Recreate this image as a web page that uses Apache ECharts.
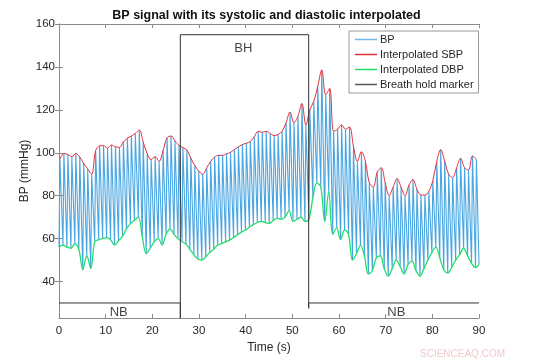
<!DOCTYPE html>
<html><head><meta charset="utf-8">
<script src="https://cdn.jsdelivr.net/npm/echarts@6/dist/echarts.min.js"></script>
<style>html,body{margin:0;padding:0;background:#fff}#c{width:533px;height:362px}</style>
</head><body><div id="c"></div>
<script>
// Diastolic troughs (beat onsets), seconds and mmHg
var troughT = [0.0,0.85,1.7,2.55,3.4,4.25,5.1,5.95,6.8,7.65,8.5,9.35,10.2,11.05,11.9,12.75,13.6,14.45,15.3,16.15,17.0,17.85,18.7,19.55,20.4,21.25,22.1,22.95,23.8,24.65,25.5,26.35,27.2,28.05,28.9,29.75,30.6,31.45,32.3,33.15,34.0,34.85,35.7,36.55,37.4,38.25,39.1,39.95,40.8,41.65,42.5,43.35,44.2,45.05,45.9,46.75,47.6,48.45,49.3,50.15,51.0,51.85,52.7,53.55,54.4,55.25,56.1,56.95,57.8,58.65,59.5,60.35,61.2,62.05,62.9,63.75,64.6,65.45,66.3,67.15,68.0,68.85,69.7,70.55,71.4,72.25,73.1,73.95,74.8,75.65,76.5,77.35,78.2,79.05,79.9,80.75,81.6,82.45,83.3,84.15,85.0,85.85,86.7,87.55,88.4,89.25,90.0];
var dbpValues = [56,57,56,55.5,57.5,55,45.5,52,46,58.5,
  59.5,60,60.5,59.5,57,59,61,64.5,67,68.5,
  70,61,53,55.5,58.5,60,57,62,64.5,62,
  60,58.5,57.5,55,52.5,50.5,50,51.5,53.5,55,
  57,57.8,58.5,59.3,60.5,61.8,63,64,65.3,66.5,
  67.5,68,67.5,67,68.5,69.4,69,70,73,68,
  69,70,68,69,79,86,84,68,82,62,
  65,59.5,64,62,50,53,57,52,43.5,45,
  51,52,46,42.5,46,50,47,43.5,48,49.5,
  45,42.5,46,50,53.5,56,51,45.5,44,46.5,
  50,52.5,55.5,52,48.5,46.5,48];
// Systolic peaks
var peakT = [0.2,1.05,1.9,2.75,3.6,4.45,5.3,6.15,7.0,7.85,8.7,9.55,10.4,11.25,12.1,12.95,13.8,14.65,15.5,16.35,17.2,18.05,18.9,19.75,20.6,21.45,22.3,23.15,24.0,24.85,25.7,26.55,27.4,28.25,29.1,29.95,30.8,31.65,32.5,33.35,34.2,35.05,35.9,36.75,37.6,38.45,39.3,40.15,41.0,41.85,42.7,43.55,44.4,45.25,46.1,46.95,47.8,48.65,49.5,50.35,51.2,52.05,52.9,53.75,54.6,55.45,56.3,57.15,58.0,58.85,59.7,60.55,61.4,62.25,63.1,63.95,64.8,65.65,66.5,67.35,68.2,69.05,69.9,70.75,71.6,72.45,73.3,74.15,75.0,75.85,76.7,77.55,78.4,79.25,80.1,80.95,81.8,82.65,83.5,84.35,85.2,86.05,86.9,87.75,88.6,89.45];
var sbpValues = [97,99.7,99.2,98.2,99.7,98,95,92.5,90,101,
  103.2,103.3,102.2,103.6,102.8,102.5,105,106.8,107.8,109,
  110.6,105,99.5,96.8,98.2,96,101,107,107.8,105.5,
  103.5,102.4,101.3,97.5,94,91.5,90,93,96,98,
  98.8,98.8,99.5,100.2,101.5,102.8,103.8,104.5,105.2,107.5,
  110,109.5,110,109,108,108.5,110,114,119,114,
  117,123,113,120,124,131,138.6,127,130,110,
  111,113,111,112,103,96,100.5,96,86,84,
  91,93,86,80,84,88,84,80,85,87.5,
  83,80.3,80.3,82,87,96,101.5,96,90,88.5,
  93,97.4,93,92,98.5,97];
// Breath-hold marker
var markerT = [0,26,26,26,53.5,53.5,53.5,90];
var markerV = [30,30,23,155,155,27.5,30,30];
// Annotations
var annotText = ['NB','BH','NB'];
var annotT = [12.8,39.5,72.3];
var annotV = [25.8,148.8,25.8];
var xTicks = [0,10,20,30,40,50,60,70,80,90];
var yTicks = [40,60,80,100,120,140,160];

var bp = [];
for (var i = 0; i < troughT.length; i++) {
  bp.push([troughT[i], dbpValues[i]]);
  if (i < peakT.length) bp.push([peakT[i], sbpValues[i]]);
}
var sbp = peakT.map(function(t,i){return [t, sbpValues[i]];});
var dbp = troughT.map(function(t,i){return [t, dbpValues[i]];});
var mk = markerT.map(function(t,i){return [t, markerV[i]];});
var ann = annotT.map(function(t,i){return {value:[t, annotV[i]], name: annotText[i]};});

var FONT = 'Liberation Sans, Arial, sans-serif';
var axisCol = '#8a8a8a';
var txtCol = '#262626';
var chart = echarts.init(document.getElementById('c'), null, {renderer:'canvas'});
var baseX = {type:'value', min:0, max:90, interval:10,
  axisLine:{show:true, lineStyle:{color:axisCol, width:1}},
  axisTick:{show:true, inside:true, length:4, lineStyle:{color:axisCol}},
  splitLine:{show:false}};
var baseY = {type:'value', min:23, max:160,
  axisLine:{show:true, lineStyle:{color:axisCol, width:1}},
  axisTick:{show:true, inside:true, length:4, lineStyle:{color:axisCol}, customValues: yTicks},
  splitLine:{show:false}};
chart.setOption({
  animation:false,
  title:{text:'BP signal with its systolic and diastolic interpolated', left:'center', top:4,
    textStyle:{fontFamily:FONT, fontSize:12.5, fontWeight:'bold', color:'#111'}},
  grid:{left:59, right:54, top:24, bottom:44, containLabel:false},
  legend:{orient:'vertical', left:349, top:31, padding:[3,5,3,6], itemGap:4,
    itemWidth:22, itemHeight:1.5, icon:'rect',
    backgroundColor:'#fff', borderColor:'#9a9a9a', borderWidth:1,
    textStyle:{fontFamily:FONT, fontSize:11, color:txtCol, padding:[0,0,0,-2]},
    data:['BP','Interpolated SBP','Interpolated DBP','Breath hold marker']},
  xAxis:[
    Object.assign({}, baseX, {position:'bottom', name:'Time (s)', nameLocation:'middle', nameGap:24,
      nameMoveOverlap:false,
      nameTextStyle:{fontFamily:FONT, fontSize:12, color:txtCol},
      axisLabel:{show:true, fontFamily:FONT, fontSize:11.5, color:txtCol, margin:7}}),
    Object.assign({}, baseX, {position:'top', axisLabel:{show:false}})
  ],
  yAxis:[
    Object.assign({}, baseY, {position:'left', name:'BP (mmHg)', nameLocation:'middle', nameGap:28,
      nameMoveOverlap:false,
      nameTextStyle:{fontFamily:FONT, fontSize:12, color:txtCol},
      axisLabel:{show:true, fontFamily:FONT, fontSize:11.5, color:txtCol, margin:4, customValues: yTicks}}),
    Object.assign({}, baseY, {position:'right', axisLabel:{show:false}})
  ],
  series:[
    {name:'BP', type:'line', data:bp, showSymbol:false, symbol:'none',
      lineStyle:{color:'#4aa6e2', width:1.1}, itemStyle:{color:'#6fb8e8'}, z:2},
    {name:'Interpolated SBP', type:'line', data:sbp, smooth:0.35, showSymbol:false, symbol:'none',
      lineStyle:{color:'#e2303c', width:1}, itemStyle:{color:'#e2303c'}, z:3},
    {name:'Interpolated DBP', type:'line', data:dbp, smooth:0.35, showSymbol:false, symbol:'none',
      lineStyle:{color:'#1ee06a', width:1.3}, itemStyle:{color:'#1ee06a'}, z:4},
    {name:'Breath hold marker', type:'line', data:mk, showSymbol:false, symbol:'none',
      lineStyle:{color:'#333', width:1}, itemStyle:{color:'#555'}, z:5},
    {name:'annot', type:'scatter', data:ann, symbolSize:0, silent:true, z:6,
      label:{show:true, position:'inside', formatter:'{b}', fontFamily:FONT, fontSize:13, color:'#111'}}
  ],
  graphic:[{type:'text', right:28, bottom:3,
    style:{text:'SCIENCEAQ.COM', fontFamily:FONT, fontSize:10, fill:'#f1c9cc'}}]
});
</script></body></html>
